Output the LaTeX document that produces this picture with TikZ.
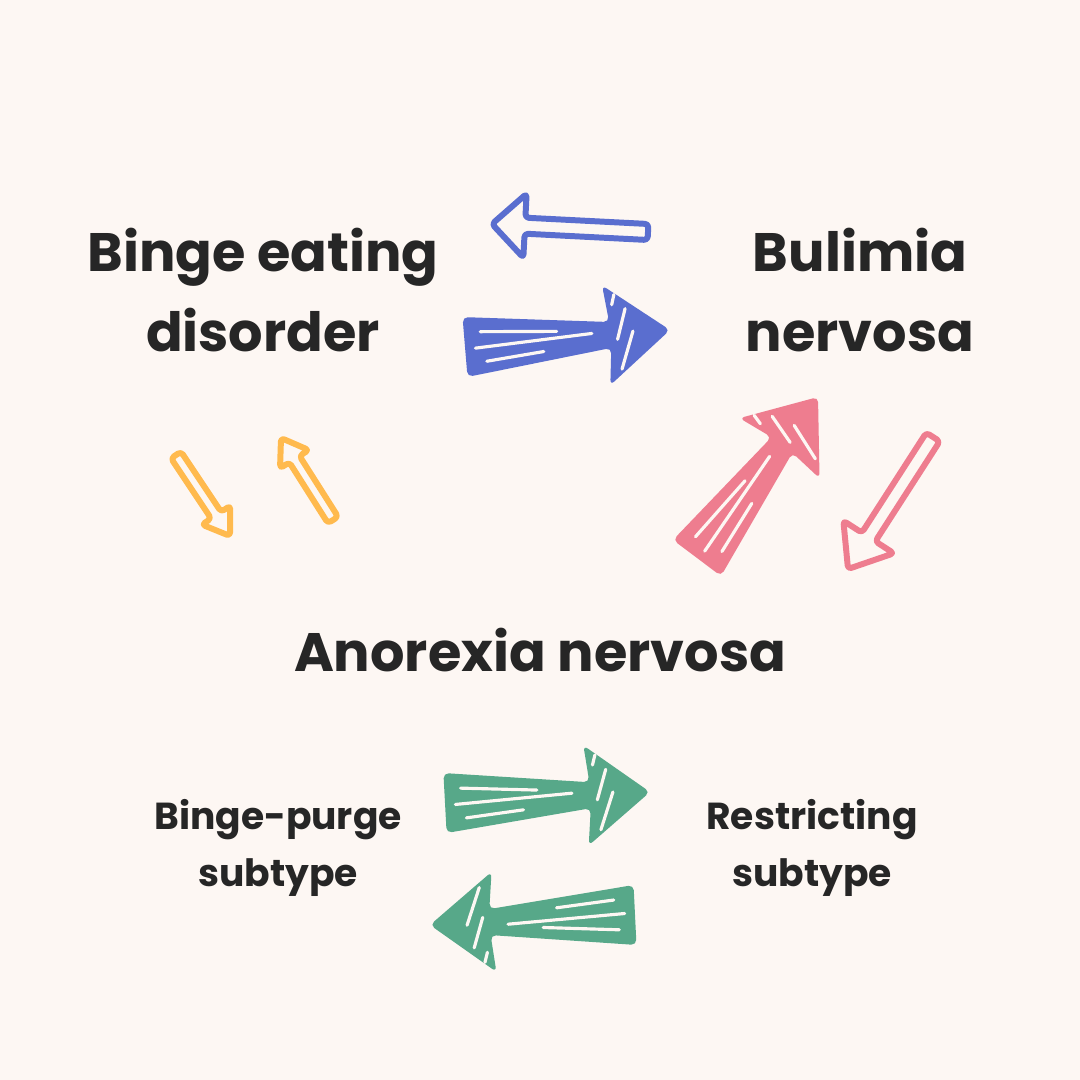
\documentclass[tikz,border=0pt]{standalone}
\usepackage{fontspec}
\setmainfont{Poppins}
\usetikzlibrary{calc}
\usetikzlibrary{positioning}
\definecolor{bgcream}{HTML}{FDF7F3}
\definecolor{inkdark}{HTML}{262626}
\definecolor{arrowblue}{HTML}{5A6ECF}
\definecolor{arrowpink}{HTML}{EE7D8F}
\definecolor{arrowgold}{HTML}{FFBA4E}
\definecolor{arrowgreen}{HTML}{57A889}

% filled sketchy arrow: colour, tail, tip
\newcommand{\fatarrow}[3]{%
  \fill[#1, rounded corners=1.5pt]
    ($(#2)!0.30cm!90:(#3)$) --
    ($(#3)!0.60cm!(#2)!0.13cm!-90:(#2)$) --
    ($(#3)!0.64cm!(#2)!0.50cm!-90:(#2)$) --
    (#3) --
    ($(#3)!0.64cm!(#2)!0.50cm!90:(#2)$) --
    ($(#3)!0.60cm!(#2)!0.13cm!90:(#2)$) --
    ($(#2)!0.30cm!-90:(#3)$) -- cycle;
  \draw[streak] ($(#2)!0.08!(#3)!0.14cm!90:(#3)$) -- ($(#2)!0.45!(#3)!0.08cm!90:(#3)$);
  \draw[streak] ($(#2)!0.05!(#3)!0.02cm!-90:(#3)$) -- ($(#2)!0.62!(#3)!0.03cm!90:(#3)$);
  \draw[streak] ($(#2)!0.10!(#3)!0.16cm!-90:(#3)$) -- ($(#2)!0.38!(#3)!0.11cm!-90:(#3)$);
  \draw[streak] ($(#3)!0.56cm!(#2)!0.30cm!-90:(#2)$) -- ($(#3)!0.53cm!(#2)!0.40cm!-90:(#2)$);
  \draw[streak] ($(#3)!0.53cm!(#2)!0.05cm!90:(#2)$) -- ($(#3)!0.43cm!(#2)!0.25cm!-90:(#2)$);
  \draw[streak] ($(#3)!0.51cm!(#2)!0.35cm!90:(#2)$) -- ($(#3)!0.37cm!(#2)!0.02cm!-90:(#2)$);
}
% hollow arrow: colour, tail, tip, head length, head half width, shaft half width
\newcommand{\hollowarrow}[6]{%
  \draw[#1, fill=bgcream, line width=1.7pt, line join=round, rounded corners=1pt]
    ($(#2)!#6!90:(#3)$) --
    ($(#3)!#4!(#2)!#6!-90:(#2)$) --
    ($(#3)!#4!(#2)!#5!-90:(#2)$) --
    (#3) --
    ($(#3)!#4!(#2)!#5!90:(#2)$) --
    ($(#3)!#4!(#2)!#6!90:(#2)$) --
    ($(#2)!#6!-90:(#3)$) -- cycle;
}

\begin{document}
\begin{tikzpicture}[x=0.01cm,y=-0.01cm,
    big label/.style={font=\fontsize{15.4}{22.7}\selectfont\bfseries,text=inkdark,align=center,inner sep=0pt},
    small label/.style={font=\fontsize{10.7}{16.4}\selectfont\bfseries,text=inkdark,align=center,inner sep=0pt},
    streak/.style={bgcream,line width=0.9pt,line cap=round}]
  \fill[bgcream] (0,0) rectangle (1080,1080);

  \node[big label] (bed) at (263,290) {Binge eating\\disorder};
  \node[big label] (bn) at (860,290) {Bulimia\\nervosa};
  \node[big label] (an) at (540,650) {Anorexia nervosa};
  \node[small label] (bp) at (278,848) {Binge-purge\\subtype};
  \node[small label] (rs) at (812,848) {Restricting\\subtype};

  % arrow ends
  \coordinate (bed-bn tail) at (465,347);
  \coordinate (bed-bn tip) at (670,330);
  \coordinate (bn-bed tail) at (648,232);
  \coordinate (bn-bed tip) at (492,224);
  \coordinate (bed-an tail) at (176,455);
  \coordinate (bed-an tip) at (230,536);
  \coordinate (an-bed tail) at (333,520);
  \coordinate (an-bed tip) at (281,438);
  \coordinate (an-bn tail) at (697,558);
  \coordinate (an-bn tip) at (818,397);
  \coordinate (bn-an tail) at (933,437);
  \coordinate (bn-an tip) at (848,569);
  \coordinate (bp-rs tail) at (445,803);
  \coordinate (bp-rs tip) at (650,792);
  \coordinate (rs-bp tail) at (635,915);
  \coordinate (rs-bp tip) at (430,925);

  \fatarrow{arrowblue}{bed-bn tail}{bed-bn tip}
  \hollowarrow{arrowblue}{bn-bed tail}{bn-bed tip}{0.33cm}{0.32cm}{0.08cm}
  \hollowarrow{arrowgold}{bed-an tail}{bed-an tip}{0.25cm}{0.17cm}{0.06cm}
  \hollowarrow{arrowgold}{an-bed tail}{an-bed tip}{0.25cm}{0.17cm}{0.06cm}
  \fatarrow{arrowpink}{an-bn tail}{an-bn tip}
  \hollowarrow{arrowpink}{bn-an tail}{bn-an tip}{0.38cm}{0.30cm}{0.08cm}
  \fatarrow{arrowgreen}{bp-rs tail}{bp-rs tip}
  \fatarrow{arrowgreen}{rs-bp tail}{rs-bp tip}
\end{tikzpicture}
\end{document}
